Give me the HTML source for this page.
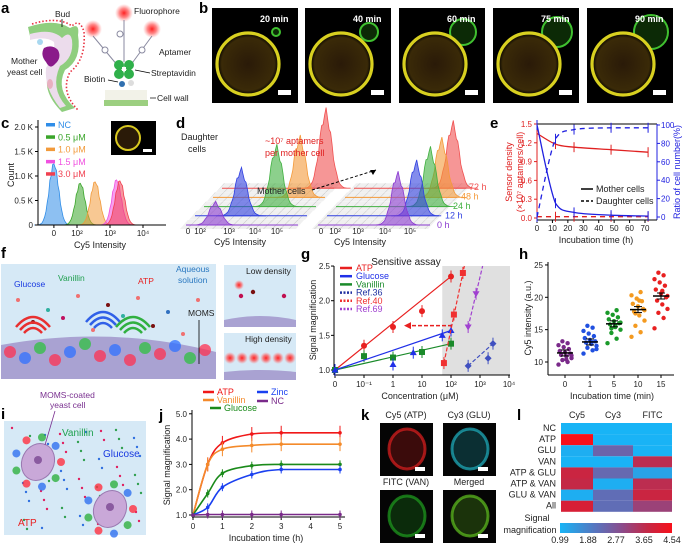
<!DOCTYPE html>
<html><head><meta charset="utf-8">
<style>
html,body{margin:0;padding:0;background:#fff;}
svg{display:block;font-family:"Liberation Sans",Arial,sans-serif;}
.pl{font-weight:bold;font-size:15px;}
.t{font-size:8.5px;fill:#222;}
.tk{font-size:8px;fill:#222;}
</style></head>
<body>
<svg id="fig" width="685" height="545" viewBox="0 0 685 545" xmlns="http://www.w3.org/2000/svg">
<defs>
<radialGradient id="glowR"><stop offset="0" stop-color="#ff2020"/><stop offset="0.5" stop-color="#ff5050" stop-opacity="0.7"/><stop offset="1" stop-color="#ff8080" stop-opacity="0"/></radialGradient>
<radialGradient id="cellIn"><stop offset="0" stop-color="#2a1a08"/><stop offset="0.85" stop-color="#3a2a08"/><stop offset="1" stop-color="#000"/></radialGradient>
<linearGradient id="cbar" x1="0" x2="1"><stop offset="0" stop-color="#18b4f6"/><stop offset="0.33" stop-color="#5a72bc"/><stop offset="0.55" stop-color="#8a4c8c"/><stop offset="0.78" stop-color="#c42846"/><stop offset="1" stop-color="#f8101a"/></linearGradient>
<pattern id="hatch" width="6" height="6" patternUnits="userSpaceOnUse" patternTransform="rotate(45)"><rect width="6" height="6" fill="#ececec"/><line x1="0" y1="0" x2="0" y2="6" stroke="#b8b8b8" stroke-width="1"/></pattern>
</defs>

<!-- panel a -->
<g>
<text class="pl" x="1" y="13">a</text>
<path d="M28,27 Q55,18 70,28 Q80,22 78,35 Q82,60 65,70 Q55,90 75,108 L62,112 Q40,90 50,70 Q62,55 60,40 Q50,32 30,36 Z" fill="#8fce7e"/>
<path d="M30,34 Q52,28 62,38 Q70,30 72,40 Q74,58 60,66 Q50,88 66,106 L60,108 Q44,88 46,68 Q56,52 54,42 Q46,36 30,40 Z" fill="#ecdcec"/>
<path d="M44,48 Q52,44 58,50 Q62,58 55,64 Q50,70 46,62 Q40,55 44,48 Z" fill="#8a1a8a"/>
<circle cx="40" cy="42" r="3" fill="#a8d8f0"/>
<ellipse cx="50" cy="84" rx="3" ry="5" fill="#e8b0c0"/>
<path d="M32,24 Q58,16 72,26 Q80,18 84,32 Q86,60 70,72 Q60,92 78,110" fill="none" stroke="#e83040" stroke-width="1.6" stroke-dasharray="1.5 2"/>
<text class="t" x="55" y="17">Bud</text>
<line x1="62" y1="19" x2="62" y2="27" stroke="#000" stroke-width="0.8"/>
<text class="t" x="11" y="64">Mother</text>
<text class="t" x="7" y="75">yeast cell</text>
<circle cx="124" cy="13" r="9" fill="url(#glowR)"/><circle cx="93" cy="29" r="9" fill="url(#glowR)"/><circle cx="152" cy="29" r="9" fill="url(#glowR)"/>
<g stroke="#8a8aa0" stroke-width="1" fill="none">
<path d="M124,20 L124,62 M93,36 L118,66 M152,36 L130,66"/>
<circle cx="120" cy="34" r="3" fill="#fff"/><circle cx="105" cy="50" r="3" fill="#fff"/><circle cx="142" cy="50" r="3" fill="#fff"/>
</g>
<g fill="#2fb04a"><circle cx="119" cy="65" r="5"/><circle cx="129" cy="65" r="5"/><circle cx="119" cy="74" r="5"/><circle cx="129" cy="74" r="5"/></g>
<rect x="122" y="67" width="4" height="4" fill="#fff"/>
<circle cx="122" cy="84" r="3" fill="#3070b0"/><circle cx="131" cy="83" r="3" fill="#ddd"/>
<text class="t" x="159" y="55">Aptamer</text>
<text class="t" x="134" y="14">Fluorophore</text>
<text class="t" x="151" y="76">Streptavidin</text>
<line x1="135" y1="70" x2="150" y2="73" stroke="#000" stroke-width="0.7"/>
<text class="t" x="84" y="82">Biotin</text>
<line x1="108" y1="80" x2="118" y2="82" stroke="#000" stroke-width="0.7"/>
<rect x="105" y="90" width="42" height="10" fill="#f2f2e8"/>
<rect x="104" y="100" width="44" height="6" fill="#9ccf80"/>
<text class="t" x="157" y="101">Cell wall</text>
<line x1="150" y1="98" x2="156" y2="98" stroke="#000" stroke-width="0.7"/>
</g>

<g id="panelB">
<text class="pl" x="199" y="13">b</text>
</g>
<g id="panelC"><text class="pl" x="1" y="128">c</text></g>
<g id="panelD"><text class="pl" x="176" y="128">d</text></g>
<g id="panelE"><text class="pl" x="490" y="128">e</text></g>

<!-- panel f -->
<g>
<text class="pl" x="1" y="258">f</text>
<rect x="1" y="264" width="215" height="115" fill="#d6e9f6"/>
<path d="M1,345 Q110,325 216,352 L216,379 L1,379 Z" fill="#a9a2d2"/>
<g id="fDots"></g>
<text class="t" x="14" y="287" style="fill:#1838e0">Glucose</text>
<text class="t" x="58" y="281" style="fill:#20a050">Vanillin</text>
<text class="t" x="138" y="284" style="fill:#e82020">ATP</text>
<text class="t" x="176" y="272" style="fill:#2a78c0">Aqueous</text>
<text class="t" x="178" y="283" style="fill:#2a78c0">solution</text>
<text class="t" x="188" y="316">MOMS</text>
<line x1="199" y1="320" x2="199" y2="364" stroke="#000" stroke-width="0.8"/>
<g fill="none" stroke-width="2.5">
<path d="M20,330 Q33,315 46,330" stroke="#e83030"/><path d="M24,333 Q33,323 42,333" stroke="#e83030"/><path d="M16,327 Q33,307 50,327" stroke="#e83030"/>
<path d="M90,325 Q103,310 116,325" stroke="#3060e8"/><path d="M94,328 Q103,318 112,328" stroke="#3060e8"/><path d="M86,322 Q103,302 120,322" stroke="#3060e8"/>
<path d="M120,330 Q133,315 146,330" stroke="#30b040"/><path d="M124,333 Q133,323 142,333" stroke="#30b040"/><path d="M116,327 Q133,307 150,327" stroke="#30b040"/>
</g>
<rect x="224" y="265" width="72" height="62" fill="#d6e9f6"/>
<path d="M224,320 Q260,312 296,320 L296,327 L224,327 Z" fill="#a9a2d2"/>
<text class="t" x="246" y="274">Low density</text>
<circle cx="239" cy="285" r="5" fill="url(#glowR)"/><circle cx="241" cy="296" r="2.2" fill="#c01050"/><circle cx="253" cy="292" r="2.2" fill="#7a1010"/><circle cx="284" cy="296" r="2.2" fill="#c01050"/>
<rect x="224" y="333" width="72" height="47" fill="#d6e9f6"/>
<path d="M224,372 Q260,368 296,372 L296,380 L224,380 Z" fill="#a9a2d2"/>
<text class="t" x="245" y="342">High density</text>
<g fill="url(#glowR)"><circle cx="230" cy="358" r="6"/><circle cx="242" cy="358" r="6"/><circle cx="254" cy="358" r="6"/><circle cx="266" cy="358" r="6"/><circle cx="278" cy="358" r="6"/><circle cx="290" cy="358" r="6"/></g>
</g>

<g id="panelG"><text class="pl" x="301" y="259">g</text></g>
<g id="panelH"><text class="pl" x="519" y="259">h</text></g>

<!-- panel i -->
<g>
<text class="pl" x="1" y="419">i</text>
<rect x="4" y="421" width="142" height="114" fill="#d6e9f6"/>
<g id="iDots"></g>
<ellipse cx="38" cy="462" rx="16" ry="19" fill="#c9a8d8" stroke="#9a78b0" transform="rotate(25 38 462)"/>
<circle cx="38" cy="460" r="4" fill="#8a5aa0"/>
<ellipse cx="110" cy="509" rx="16" ry="19" fill="#c9a8d8" stroke="#9a78b0" transform="rotate(25 110 509)"/>
<circle cx="110" cy="507" r="4" fill="#8a5aa0"/>
<g id="iBeads"></g>
<text class="t" x="40" y="398" style="fill:#7a3090">MOMS-coated</text>
<text class="t" x="50" y="408" style="fill:#7a3090">yeast cell</text>
<line x1="55" y1="411" x2="45" y2="445" stroke="#7a3090" stroke-width="0.8"/>
<text x="62" y="436" style="fill:#20a050;font-size:10px">Vanillin</text>
<text x="103" y="457" style="fill:#1838e0;font-size:10px">Glucose</text>
<text x="18" y="526" style="fill:#e82020;font-size:10px">ATP</text>
</g>

<g id="panelJ"><text class="pl" x="159" y="420">j</text></g>
<g id="panelK"><text class="pl" x="361" y="420">k</text></g>
<g id="panelL"><text class="pl" x="517" y="420">l</text></g>
</svg>

<script>
// ---------- data ----------
var bTimes = ["20 min","40 min","60 min","75 min","90 min"];
var bBud = [4, 9, 13, 15, 17];
var cLabels = ["NC","0.5 μM","1.0 μM","1.5 μM","3.0 μM"];
var cPeakLog = [1.3, 2.1, 2.55, 3.2, 3.3];
var cPeakCount = [1250, 850, 880, 920, 900];
var cYTicks = [0, 500, 1000, 1500, 2000];
var cYTickLabels = ["0","0.5 K","1.0 K","1.5 K","2.0 K"];
var dLayers = ["0 h","12 h","24 h","48 h","72 h"];
var dDaughterPeak = [0.8, 1.5, 2.6, 3.2, 3.9];
var dDaughterHeight = [22, 45, 58, 58, 75];
var dMotherPeak = [2.9, 3.3, 3.5, 3.6, 3.7];
var dMotherHeight = [50, 52, 56, 56, 63];
var eTimes = [0, 12, 24, 48, 72];
var eMotherDensity = [1.35, 1.18, 1.13, 1.09, 1.05];
var eDaughterDensity = [0.02, 0.02, 0.02, 0.02, 0.02];
var eMotherRatio = [100, 15, 5, 2, 1];
var eDaughterRatio = [0, 85, 95, 97, 97];
var eXTicks = [0,10,20,30,40,50,60,70];
var eYTicks = [0,0.3,0.6,0.9,1.2,1.5];
var eRTicks = [0,20,40,60,80,100];
var gAtpConc = [0, 0.1, 1, 10, 100];
var gAtpVal = [1.0, 1.35, 1.62, 1.85, 2.35];
var gGluConc = [0, 1, 5, 50, 100];
var gGluVal = [1.0, 1.08, 1.25, 1.5, 1.57];
var gVanConc = [0, 0.1, 1, 10, 100];
var gVanVal = [1.0, 1.2, 1.18, 1.26, 1.38];
var gRef36Conc = [390, 1900, 2800];
var gRef36Val = [1.06, 1.17, 1.38];
var gRef40Conc = [57, 126, 257];
var gRef40Val = [1.1, 1.8, 2.4];
var gRef69Conc = [390, 730];
var gRef69Val = [1.62, 2.1];
var gYTicks = [1.0, 1.5, 2.0, 2.5];
var gXTickLabels = ["0","10⁻¹","1","10","10²","10³","10⁴"];
var hCats = ["0","1","5","10","15"];
var hMeans = [11.4, 13.1, 15.9, 18.1, 20.2];
var hPts0 = [9.6,10.0,10.3,10.6,10.9,11.1,11.3,11.5,11.7,12.0,12.3,12.6,12.9,13.2,11.0,10.4];
var hPts1 = [11.3,11.8,12.2,12.5,12.8,13.0,13.2,13.4,13.7,14.0,14.4,14.8,15.3,15.6,12.0,13.1];
var hPts2 = [12.9,13.6,14.5,15.0,15.4,15.8,16.0,16.3,16.6,16.9,17.3,17.6,18.0,15.2,16.1,15.6];
var hPts3 = [13.9,14.6,15.6,16.4,17.2,17.8,18.2,18.6,19.0,19.4,19.8,20.3,20.8,17.5,18.0,19.5];
var hPts4 = [15.2,16.8,17.6,18.2,18.9,19.5,20.0,20.6,21.2,21.8,22.3,22.8,23.4,23.8,20.2,21.0];
var hYTicks = [10, 15, 20, 25];
var jTimes = [0, 0.5, 1, 2, 3, 5];
var jATP = [1.0, 3.0, 3.85, 4.2, 4.25, 4.25];
var jVan = [1.0, 3.0, 3.6, 3.75, 3.8, 3.8];
var jGlu = [1.0, 1.85, 2.65, 2.95, 3.0, 3.0];
var jZinc = [1.0, 1.3, 2.1, 2.6, 2.8, 2.8];
var jNC = [1.0, 1.02, 1.02, 1.02, 1.02, 1.02];
var jYTicks = [1.0, 2.0, 3.0, 4.0, 5.0];
var jXTicks = [0,1,2,3,4,5];
var lRows = ["NC","ATP","GLU","VAN","ATP & GLU","ATP & VAN","GLU & VAN","All"];
var lCols = ["Cy5","Cy3","FITC"];
var lVals = [[0.99,0.99,0.99],[4.54,1.0,1.0],[1.1,2.5,1.0],[1.0,1.0,3.6],[3.8,2.4,1.3],[3.7,1.1,3.6],[1.1,2.3,3.8],[4.0,2.3,3.2]];
var lBarTicks = ["0.99","1.88","2.77","3.65","4.54"];

// ---------- helpers ----------
var NS = "http://www.w3.org/2000/svg";
function mk(tag, attrs, parent, name, inter) {
  var e = document.createElementNS(NS, tag);
  for (var k in attrs) e.setAttribute(k, attrs[k]);
  
  
  parent.appendChild(e);
  return e;
}
function txt(s, x, y, parent, name, extra) {
  var a = {x:x, y:y, "font-size":8, fill:"#222"};
  if (extra) for (var k in extra) a[k] = extra[k];
  var e = mk("text", a, parent, name, false);
  e.textContent = s;
  return e;
}
function $(id){return document.getElementById(id);}
function smooth(P){
  var d = "M" + P[0][0].toFixed(1) + "," + P[0][1].toFixed(1);
  for (var i = 0; i < P.length - 1; i++) {
    var p0 = P[i-1] || P[i], p1 = P[i], p2 = P[i+1], p3 = P[i+2] || P[i+1];
    var c1x = p1[0] + (p2[0]-p0[0])/6, c1y = p1[1] + (p2[1]-p0[1])/6;
    var c2x = p2[0] - (p3[0]-p1[0])/6, c2y = p2[1] - (p3[1]-p1[1])/6;
    c1y = Math.max(Math.min(c1y, Math.max(p1[1],p2[1])), Math.min(p1[1],p2[1]));
    c2y = Math.max(Math.min(c2y, Math.max(p1[1],p2[1])), Math.min(p1[1],p2[1]));
    d += " C" + c1x.toFixed(1)+","+c1y.toFixed(1)+" "+c2x.toFixed(1)+","+c2y.toFixed(1)+" "+p2[0].toFixed(1)+","+p2[1].toFixed(1);
  }
  return d;
}

// ---------- panel b ----------
(function(){
  var g = $("panelB");
  var xs = [212, 305, 399, 493, 587];
  for (var i = 0; i < bTimes.length; i++) {
    var x = xs[i];
    mk("rect", {x:x, y:8, width:86, height:95, fill:"#000"}, g, "micrograph-" + bTimes[i].replace(" ","-"), false);
    var cx = x + 36, cy = 64, r = 31;
    var bud = bBud[i];
    mk("circle", {cx:cx+28, cy:cy-32, r:bud, fill:"#0c2a06", stroke:"#40c030", "stroke-width":2}, g, "bud-cell", false);
    mk("circle", {cx:cx, cy:cy, r:r, fill:"url(#cellIn)", stroke:"#d8d020", "stroke-width":3.2}, g, "mother-cell", false);
    mk("rect", {x:x+66, y:90, width:13, height:5, fill:"#fff"}, g, "scale-bar", false);
    txt(bTimes[i], x+48, 22, g, "time-label", {"font-weight":"bold", fill:"#fff", "font-size":9});
  }
})();

// ---------- panel c ----------
(function(){
  var g = $("panelC");
  function xc(v){ return 77 + (v - 2) * 33; }
  function yc(c){ return 225 - c / 500 * 24.5; }
  var cols = ["#2f8de8","#3aa52a","#f29a3a","#f050e0","#f04050"];
  for (var i = 0; i < cPeakLog.length; i++) {
    var d = "M" + xc(cPeakLog[i]-0.6) + "," + yc(0);
    for (var s = -0.6; s <= 0.6001; s += 0.04) {
      var v = cPeakCount[i] * Math.exp(-s*s/(2*0.14*0.14)) * (1 + 0.06*Math.sin(s*90));
      d += " L" + xc(cPeakLog[i]+s).toFixed(1) + "," + yc(v).toFixed(1);
    }
    d += " Z";
    mk("path", {d:d, fill:cols[i], "fill-opacity":0.55, stroke:cols[i], "stroke-width":0.8}, g, "histogram-" + cLabels[i], false);
    mk("rect", {x:46, y:123 + i*12.3, width:9, height:3.5, fill:cols[i]}, g, "legend-swatch", false);
    txt(cLabels[i], 58, 128 + i*12.3, g, "legend-entry", {fill:cols[i], "font-size":9});
  }
  mk("line", {x1:38, y1:120, x2:38, y2:225, stroke:"#000"}, g, "y-axis", false);
  mk("line", {x1:38, y1:225, x2:166, y2:225, stroke:"#000"}, g, "x-axis", false);
  for (var j = 0; j < cYTicks.length; j++) {
    var y = yc(cYTicks[j]);
    mk("line", {x1:35, y1:y, x2:38, y2:y, stroke:"#000"}, g, "y-tick", false);
    txt(cYTickLabels[j], 33, y+3, g, "y-tick-label", {"text-anchor":"end"});
  }
  var xl = ["0","10²","10³","10⁴"], xv = [1.3, 2, 3, 4];
  for (var k = 0; k < xl.length; k++) {
    mk("line", {x1:xc(xv[k]), y1:225, x2:xc(xv[k]), y2:228, stroke:"#000"}, g, "x-tick", false);
    txt(xl[k], xc(xv[k]), 236, g, "x-tick-label", {"text-anchor":"middle"});
  }
  txt("Cy5 Intensity", 100, 248, g, "x-axis-title", {"text-anchor":"middle", "font-size":9});
  txt("Count", 14, 175, g, "y-axis-title", {"text-anchor":"middle", "font-size":9, transform:"rotate(-90 14 175)"});
  mk("rect", {x:111, y:121, width:45, height:34, fill:"#000"}, g, "inset-image", false);
  mk("circle", {cx:128, cy:138, r:12, fill:"#2a1a08", stroke:"#d8c820", "stroke-width":2}, g, "inset-cell", false);
  mk("rect", {x:143, y:149, width:9, height:3, fill:"#fff"}, g, "inset-scale-bar", false);
})();

// ---------- panel d ----------
(function(){
  var g = $("panelD");
  var cols = ["#8a3ad0","#3040e0","#40b040","#f49a3a","#f05050"];
  function stack(x0, peaks, heights, tickX, tickLbl, titleX) {
    for (var i = dLayers.length - 1; i >= 0; i--) {
      var by = 225 - i * 9.2, ox = x0 + i * 9;
      mk("path", {d:"M"+(ox-6)+","+(by+4)+" L"+(ox+110)+","+(by+4)+" L"+(ox+118)+","+(by-5)+" L"+(ox+2)+","+(by-5)+" Z", fill:"url(#hatch)", opacity:0.8}, g, "plane-" + dLayers[i], false);
      var px = ox + 10 + peaks[i] * 24, d = "M" + (px-25) + "," + by;
      for (var s = -25; s <= 25; s += 1.5) {
        var h = heights[i] * Math.exp(-s*s/(2*6*6)) * (1 + 0.08*Math.sin(s*3));
        d += " L" + (px+s).toFixed(1) + "," + (by - h).toFixed(1);
      }
      d += " L" + (px+25) + "," + by + " Z";
      mk("path", {d:d, fill:cols[i], "fill-opacity":0.6, stroke:cols[i], "stroke-width":0.8}, g, "peak-" + dLayers[i], false);
      mk("line", {x1:ox, y1:by, x2:ox+112, y2:by, stroke:cols[i], "stroke-width":1}, g, "baseline", false);
    }
    for (var k = 0; k < tickLbl.length; k++) txt(tickLbl[k], tickX[k], 234, g, "x-tick-label", {"text-anchor":"middle"});
    txt("Cy5 Intensity", titleX, 245, g, "x-axis-title", {"text-anchor":"middle", "font-size":9});
  }
  stack(186, dDaughterPeak, dDaughterHeight, [188,200,229,255,277], ["0","10²","10³","10⁴","10⁵"], 240);
  stack(318, dMotherPeak, dMotherHeight, [321,335,358,385,410], ["0","10²","10³","10⁴","10⁵"], 360);
  for (var i = 0; i < dLayers.length; i++) txt(dLayers[i], 437 + i*8, 228 - i*9.5, g, "layer-label", {fill:cols[i], "font-size":9});
  txt("Daughter", 181, 140, g, "label-daughter", {"font-size":9});
  txt("cells", 188, 152, g, "label-daughter2", {"font-size":9});
  txt("~10⁷ aptamers", 265, 144, g, "label-aptamers", {"font-size":9, fill:"#e02020"});
  txt("per mother cell", 265, 156, g, "label-aptamers2", {"font-size":9, fill:"#e02020"});
  txt("Mother cells", 257, 194, g, "label-mother", {"font-size":9});
  mk("path", {d:"M312,190 L376,170", stroke:"#000", "stroke-dasharray":"3 2", fill:"none"}, g, "arrow", false);
  mk("path", {d:"M376,170 L370,170 L373,175 Z", fill:"#000"}, g, "arrow-head", false);
})();

// ---------- panel e ----------
(function(){
  var g = $("panelE");
  function xe(t){ return 537 + t * 108 / 70; }
  function yl(v){ return 218 - v / 1.5 * 94; }
  function yr(p){ return 217 - p * 0.92; }
  mk("line", {x1:537, y1:124, x2:657, y2:124, stroke:"#000"}, g, "top-frame", false);
  mk("line", {x1:537, y1:124, x2:537, y2:220, stroke:"#e02020"}, g, "left-axis", false);
  mk("line", {x1:657, y1:124, x2:657, y2:220, stroke:"#2020e0"}, g, "right-axis", false);
  mk("line", {x1:537, y1:220, x2:657, y2:220, stroke:"#000"}, g, "x-axis", false);
  eYTicks.forEach(function(v){ var y=yl(v); mk("line",{x1:534,y1:y,x2:537,y2:y,stroke:"#e02020"},g,"y-tick",false); txt(v.toFixed(1),532,y+3,g,"y-tick-label",{"text-anchor":"end",fill:"#e02020"}); });
  eRTicks.forEach(function(v){ var y=yr(v); mk("line",{x1:657,y1:y,x2:660,y2:y,stroke:"#2020e0"},g,"r-tick",false); txt(String(v),661,y+3,g,"r-tick-label",{fill:"#2020e0"}); });
  eXTicks.forEach(function(v){ var x=xe(v); mk("line",{x1:x,y1:220,x2:x,y2:223,stroke:"#000"},g,"x-tick",false); txt(String(v),x,231,g,"x-tick-label",{"text-anchor":"middle"}); });
  txt("Incubation time (h)", 596, 243, g, "x-axis-title", {"text-anchor":"middle", "font-size":9});
  txt("Sensor density", 512, 172, g, "y-axis-title", {"text-anchor":"middle", "font-size":9, fill:"#e02020", transform:"rotate(-90 512 172)"});
  txt("(×10⁷ aptamers/cell)", 523, 172, g, "y-axis-title2", {"text-anchor":"middle", "font-size":9, fill:"#e02020", transform:"rotate(-90 523 172)"});
  txt("Ratio of cell number(%)", 680, 172, g, "r-axis-title", {"text-anchor":"middle", "font-size":9, fill:"#2020e0", transform:"rotate(-90 680 172)"});
  function line(ts, vs, yf, col, dash, name){
    var P = ts.map(function(t,i){ return [xe(t), yf(vs[i])]; });
    var a = {d:smooth(P), fill:"none", stroke:col, "stroke-width":1.3};
    if (dash) a["stroke-dasharray"] = "5 4";
    mk("path", a, g, name, false);
    P.forEach(function(p){ mk("line",{x1:p[0],y1:p[1]-5,x2:p[0],y2:p[1]+5,stroke:col},g,name+"-errorbar",false); });
  }
  line(eTimes, eMotherDensity, yl, "#e02020", false, "mother-density-line");
  line(eTimes, eDaughterDensity, yl, "#e02020", true, "daughter-density-line");
  line(eTimes, eMotherRatio, yr, "#2020e0", false, "mother-ratio-line");
  line(eTimes, eDaughterRatio, yr, "#2020e0", true, "daughter-ratio-line");
  mk("line", {x1:581, y1:189, x2:593, y2:189, stroke:"#000", "stroke-width":1.5}, g, "legend-solid", false);
  txt("Mother cells", 596, 192, g, "legend-mother", {"font-size":9});
  mk("line", {x1:581, y1:201, x2:593, y2:201, stroke:"#000", "stroke-width":1.5, "stroke-dasharray":"3 2"}, g, "legend-dashed", false);
  txt("Daughter cells", 596, 204, g, "legend-daughter", {"font-size":9});
})();

// ---------- panel f dots ----------
(function(){
  var g = $("fDots");
  var fx = [10,25,40,55,70,85,100,115,130,145,160,175,190,205,18,48,78,108,138,168,198,33,63,93,123,153,183];
  var fy = [352,358,348,360,352,344,356,350,360,348,354,346,358,350,300,310,296,305,298,312,300,322,318,330,316,326,334];
  var fc = ["#ff3050","#3070ff","#30c040","#ff3050","#3070ff","#30c040","#ff3050","#3070ff","#ff3050","#30c040","#ff3050","#3070ff","#30c040","#ff3050","#f07070","#30b0a0","#f07070","#7a1010","#f07070","#3070c0","#f07070","#7a1010","#c01060","#f07070","#30b0a0","#7a1010","#f07070"];
  for (var i = 0; i < fx.length; i++) {
    var big = i < 14;
    mk("circle", {cx:fx[i], cy:fy[i], r:big?6:2, fill:fc[i], opacity:big?0.75:1}, g, "molecule-dot", false);
  }
})();

// ---------- panel i dots ----------
(function(){
  var g = $("iDots");
  var cols = ["#e02060","#30a050","#3070e0"];
  for (var i = 0; i < 60; i++) {
    var x = 12 + (i*37)%130, y = 428 + (i*53)%102;
    mk("circle", {cx:x, cy:y, r:1.2, fill:cols[i%3]}, g, "analyte-dot", false);
  }
  var b = $("iBeads");
  var centers = [[38,462],[110,509]];
  var bc = ["#ff3040","#30b040","#3070f0"];
  centers.forEach(function(c){
    for (var k = 0; k < 9; k++) {
      var a = k / 9 * 2 * Math.PI;
      mk("circle", {cx:c[0]+Math.cos(a)*23, cy:c[1]+Math.sin(a)*25, r:4, fill:bc[k%3], opacity:0.8}, b, "moms-bead", false);
    }
  });
})();

// ---------- panel g ----------
(function(){
  var g = $("panelG");
  function xg(c){ return c === 0 ? 335 : 335 + (Math.log10(c) + 2) * 29; }
  function yg(v){ return 370 - (v - 1) * 69.3; }
  mk("rect", {x:xg(50), y:266, width:510-xg(50), height:109, fill:"#e0e0e0"}, g, "high-conc-region", false);
  mk("line", {x1:334, y1:266, x2:334, y2:375, stroke:"#000"}, g, "y-axis", false);
  mk("line", {x1:334, y1:375, x2:510, y2:375, stroke:"#000"}, g, "x-axis", false);
  gYTicks.forEach(function(v){ var y=yg(v); mk("line",{x1:331,y1:y,x2:334,y2:y,stroke:"#000"},g,"y-tick",false); txt(v.toFixed(1),330,y+3,g,"y-tick-label",{"text-anchor":"end"}); });
  gXTickLabels.forEach(function(s,i){ var x=335+i*29; mk("line",{x1:x,y1:375,x2:x,y2:378,stroke:"#000"},g,"x-tick",false); txt(s,x,387,g,"x-tick-label",{"text-anchor":"middle"}); });
  txt("Concentration (μM)", 420, 399, g, "x-axis-title", {"text-anchor":"middle","font-size":9});
  txt("Signal magnification", 316, 320, g, "y-axis-title", {"text-anchor":"middle","font-size":9, transform:"rotate(-90 316 320)"});
  txt("Sensitive assay", 406, 265, g, "chart-title", {"text-anchor":"middle","font-size":10});
  function fitLine(cs, vs, col, name){
    mk("line", {x1:xg(cs[0]), y1:yg(vs[0]), x2:xg(cs[cs.length-1]), y2:yg(vs[vs.length-1]), stroke:col, "stroke-width":1.2}, g, name+"-fit", false);
  }
  function marks(cs, vs, col, shape, name){
    cs.forEach(function(c,i){
      var x=xg(c), y=yg(vs[i]);
      mk("line",{x1:x,y1:y-6,x2:x,y2:y+6,stroke:col},g,name+"-errorbar",false);
      if (shape==="c") mk("circle",{cx:x,cy:y,r:3,fill:col},g,name+"-point",false);
      else if (shape==="s") mk("rect",{x:x-3,y:y-3,width:6,height:6,fill:col},g,name+"-point",false);
      else if (shape==="t") mk("path",{d:"M"+x+","+(y-3.5)+" l3.5,6 l-7,0 Z",fill:col},g,name+"-point",false);
      else if (shape==="v") mk("path",{d:"M"+x+","+(y+3.5)+" l3.5,-6 l-7,0 Z",fill:col},g,name+"-point",false);
      else mk("path",{d:"M"+x+","+(y-3.5)+" l3.5,3.5 l-3.5,3.5 l-3.5,-3.5 Z",fill:col},g,name+"-point",false);
    });
  }
  fitLine(gAtpConc, gAtpVal, "#e82020", "atp"); marks(gAtpConc, gAtpVal, "#e82020", "c", "atp");
  fitLine(gVanConc, gVanVal, "#1a8a2a", "vanillin"); marks(gVanConc, gVanVal, "#1a8a2a", "s", "vanillin");
  fitLine(gGluConc, gGluVal, "#2030e8", "glucose"); marks(gGluConc, gGluVal, "#2030e8", "t", "glucose");
  function dashed(cs, vs, col, shape, name, ext){
    var y2 = ext ? 2.5 : vs[vs.length-1];
    var x2 = ext ? xg(cs[cs.length-1]) + (xg(cs[cs.length-1])-xg(cs[0]))/(vs[vs.length-1]-vs[0])*(2.5-vs[vs.length-1]) : xg(cs[cs.length-1]);
    mk("line",{x1:xg(cs[0]),y1:yg(vs[0]),x2:x2,y2:yg(y2),stroke:col,"stroke-dasharray":"4 2","stroke-width":1.2},g,name+"-line",false);
    marks(cs, vs, col, shape, name);
  }
  dashed(gRef40Conc, gRef40Val, "#f03030", "s", "ref40", true);
  dashed(gRef69Conc, gRef69Val, "#a040d0", "v", "ref69", true);
  dashed(gRef36Conc, gRef36Val, "#4050c0", "d", "ref36", false);
  mk("line",{x1:452,y1:yg(1.64),x2:410,y2:yg(1.64),stroke:"#e82020","stroke-dasharray":"4 2","stroke-width":1.5},g,"shift-arrow",false);
  mk("path",{d:"M404,"+yg(1.64)+" l7,-3.5 l0,7 Z",fill:"#e82020"},g,"shift-arrow-head",false);
  var ln=["ATP","Glucose","Vanillin","Ref.36","Ref.40","Ref.69"], lc=["#e82020","#2030e8","#1a8a2a","#2030a0","#f03030","#a040d0"];
  ln.forEach(function(s,i){
    var a={x1:340,y1:268+i*8.2,x2:352,y2:268+i*8.2,stroke:lc[i],"stroke-width":2.5};
    if(i>2) a["stroke-dasharray"]="2 1.5";
    mk("line",a,g,"legend-swatch",false);
    txt(s,356,271+i*8.2,g,"legend-entry",{fill:lc[i],"font-size":9});
  });
})();

// ---------- panel h ----------
(function(){
  var g = $("panelH");
  var xs = [565, 590, 614, 638, 661];
  function yh(v){ return 362 - (v - 10) * 6.47; }
  mk("line", {x1:548, y1:262, x2:548, y2:375, stroke:"#000"}, g, "y-axis", false);
  mk("line", {x1:548, y1:375, x2:674, y2:375, stroke:"#000"}, g, "x-axis", false);
  hYTicks.forEach(function(v){ var y=yh(v); mk("line",{x1:545,y1:y,x2:548,y2:y,stroke:"#000"},g,"y-tick",false); txt(String(v),543,y+3,g,"y-tick-label",{"text-anchor":"end"}); });
  hCats.forEach(function(s,i){ mk("line",{x1:xs[i],y1:375,x2:xs[i],y2:378,stroke:"#000"},g,"x-tick",false); txt(s,xs[i],387,g,"x-tick-label",{"text-anchor":"middle"}); });
  txt("Incubation time (min)", 612, 399, g, "x-axis-title", {"text-anchor":"middle","font-size":9});
  txt("Cy5 intensity (a.u.)", 531, 318, g, "y-axis-title", {"text-anchor":"middle","font-size":9, transform:"rotate(-90 531 318)"});
  var pts=[hPts0,hPts1,hPts2,hPts3,hPts4], cols=["#7a2a8a","#2050e0","#1a9a2a","#f49a20","#e82020"];
  pts.forEach(function(arr,i){
    arr.forEach(function(v,k){
      var off = ((k*7)%11 - 5) * 1.3;
      mk("circle",{cx:xs[i]+off,cy:yh(v),r:2.2,fill:cols[i]},g,"scatter-point",false);
    });
    var m=yh(hMeans[i]);
    mk("line",{x1:xs[i]-8,y1:m,x2:xs[i]+8,y2:m,stroke:"#000","stroke-width":1.5},g,"mean-line",false);
    mk("line",{x1:xs[i],y1:m-3,x2:xs[i],y2:m+3,stroke:"#000"},g,"sem-bar",false);
    mk("line",{x1:xs[i]-4,y1:m-3,x2:xs[i]+4,y2:m-3,stroke:"#000"},g,"sem-cap",false);
    mk("line",{x1:xs[i]-4,y1:m+3,x2:xs[i]+4,y2:m+3,stroke:"#000"},g,"sem-cap",false);
  });
})();

// ---------- panel j ----------
(function(){
  var g = $("panelJ");
  function xj(t){ return 193 + t * 29.4; }
  function yj(v){ return 515 - (v - 1) * 25.3; }
  mk("line", {x1:192, y1:410, x2:192, y2:517, stroke:"#000"}, g, "y-axis", false);
  mk("line", {x1:192, y1:517, x2:345, y2:517, stroke:"#000"}, g, "x-axis", false);
  jYTicks.forEach(function(v){ var y=yj(v); mk("line",{x1:189,y1:y,x2:192,y2:y,stroke:"#000"},g,"y-tick",false); txt(v.toFixed(1),187,y+3,g,"y-tick-label",{"text-anchor":"end"}); });
  jXTicks.forEach(function(v){ var x=xj(v); mk("line",{x1:x,y1:517,x2:x,y2:520,stroke:"#000"},g,"x-tick",false); txt(String(v),x,529,g,"x-tick-label",{"text-anchor":"middle"}); });
  txt("Incubation time (h)", 266, 541, g, "x-axis-title", {"text-anchor":"middle","font-size":9});
  txt("Signal magnification", 170, 465, g, "y-axis-title", {"text-anchor":"middle","font-size":9, transform:"rotate(-90 170 465)"});
  var series=[jATP,jVan,jGlu,jZinc,jNC], names=["ATP","Vanillin","Glucose","Zinc","NC"], cols=["#f01818","#f48a2a","#1a8a1a","#1a40f0","#7a2a8a"];
  series.forEach(function(vs,si){
    var P = jTimes.map(function(t,i){ return [xj(t), yj(vs[i])]; });
    mk("path",{d:smooth(P),fill:"none",stroke:cols[si],"stroke-width":1.6},g,"curve-"+names[si],false);
    P.forEach(function(p,i){
      var e = i===0?0:(si<2?7:4);
      mk("line",{x1:p[0],y1:p[1]-e,x2:p[0],y2:p[1]+e,stroke:cols[si]},g,"errorbar-"+names[si],false);
      mk("circle",{cx:p[0],cy:p[1],r:1.8,fill:cols[si]},g,"point-"+names[si],false);
    });
  });
  var lx=[203,203,210,257,257], ly=[395,403,411,395,404];
  names.forEach(function(s,i){
    mk("line",{x1:lx[i],y1:ly[i]-3,x2:lx[i]+11,y2:ly[i]-3,stroke:cols[i],"stroke-width":2.5},g,"legend-swatch",false);
    txt(s,lx[i]+14,ly[i],g,"legend-entry",{fill:cols[i],"font-size":9});
  });
})();

// ---------- panel k ----------
(function(){
  var g = $("panelK");
  var titles=["Cy5 (ATP)","Cy3 (GLU)","FITC (VAN)","Merged"];
  var xs=[380,443,380,443], ys=[423,423,490,490];
  var cols=["#e02020","#20b0c0","#20a020","#60c020"];
  titles.forEach(function(s,i){
    txt(s, xs[i]+26, ys[i]-5, g, "image-title", {"text-anchor":"middle","font-size":9});
    mk("rect",{x:xs[i],y:ys[i],width:53,height:53,fill:"#050505"},g,"micrograph-"+s,false);
    mk("ellipse",{cx:xs[i]+27,cy:ys[i]+26,rx:18,ry:20,fill:cols[i],"fill-opacity":0.25,stroke:cols[i],"stroke-width":3,"stroke-opacity":0.7},g,"cell-signal",false);
    mk("rect",{x:xs[i]+35,y:ys[i]+44,width:10,height:4,fill:"#fff"},g,"scale-bar",false);
  });
})();

// ---------- panel l ----------
(function(){
  var g = $("panelL");
  var stops=[[0.99,[24,180,246]],[2.2,[90,114,188]],[3.0,[138,76,140]],[3.7,[196,40,70]],[4.54,[248,16,26]]];
  function col(v){
    for (var i=0;i<stops.length-1;i++){
      if (v<=stops[i+1][0]){ var f=(v-stops[i][0])/(stops[i+1][0]-stops[i][0]); f=Math.max(0,f);
        var a=stops[i][1], b=stops[i+1][1];
        return "rgb("+[0,1,2].map(function(k){return Math.round(a[k]+(b[k]-a[k])*f);}).join(",")+")"; }
    }
    return "rgb(248,16,26)";
  }
  var cw=[32,40,39], cx=[561,593,633], rh=11.1, y0=423;
  lCols.forEach(function(s,j){ txt(s, cx[j]+cw[j]/2, 418, g, "column-label", {"text-anchor":"middle","font-size":9}); });
  lRows.forEach(function(s,i){
    txt(s, 556, y0+i*rh+8, g, "row-label", {"text-anchor":"end","font-size":9});
    lVals[i].forEach(function(v,j){
      mk("rect",{x:cx[j],y:y0+i*rh,width:cw[j],height:rh,fill:col(v)},g,"heatmap-cell",false);
    });
  });
  mk("rect",{x:560,y:523,width:112,height:10,fill:"url(#cbar)"},g,"colorbar",false);
  lBarTicks.forEach(function(s,i){ txt(s, 560+i*28, 543, g, "colorbar-tick-label", {"text-anchor":"middle","font-size":9}); });
  txt("Signal", 537, 521, g, "colorbar-title", {"text-anchor":"middle","font-size":9});
  txt("magnification", 530, 533, g, "colorbar-title2", {"text-anchor":"middle","font-size":9});
})();
</script>
</body></html>
